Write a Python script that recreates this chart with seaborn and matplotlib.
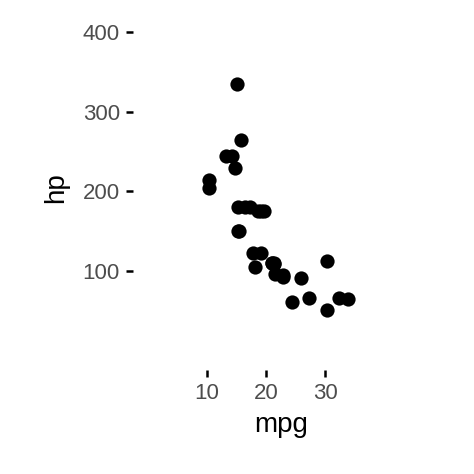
import matplotlib
matplotlib.use('Agg')
import matplotlib.pyplot as plt
import seaborn as sns
import pandas as pd

# mtcars mpg vs hp
mpg = [21.0, 21.0, 22.8, 21.4, 18.7, 18.1, 14.3, 24.4, 22.8, 19.2, 17.8, 16.4, 17.3, 15.2,
       10.4, 10.4, 14.7, 32.4, 30.4, 33.9, 21.5, 15.5, 15.2, 13.3, 19.2, 27.3, 26.0, 30.4,
       15.8, 19.7, 15.0, 21.4]
hp = [110, 110, 93, 110, 175, 105, 245, 62, 95, 123, 123, 180, 180, 180, 205, 215, 230, 66,
      52, 65, 97, 150, 150, 245, 175, 66, 91, 113, 264, 175, 335, 109]
df = pd.DataFrame({'mpg': mpg, 'hp': hp})

sns.set_style('white')
plt.rcParams['font.family'] = ['Liberation Sans', 'DejaVu Sans']
fig = plt.figure(figsize=(4.74, 4.74), dpi=100)
ax = fig.add_axes([177.5 / 474, (474 - 351) / 474, (384 - 177.5) / 474, (351 - 24) / 474])
sns.scatterplot(data=df, x='mpg', y='hp', color='black', s=105, edgecolor='black', linewidth=0, ax=ax)
ax.set_xlim(5, 40)
ax.set_ylim(0, 410)
ax.set_xticks([10, 20, 30])
ax.set_yticks([100, 200, 300, 400])
for s in ['top', 'right']:
    ax.spines[s].set_visible(False)
ax.spines['left'].set_position(('outward', 32.4))
ax.spines['bottom'].set_position(('outward', 13.7))
ax.spines['left'].set_visible(False)
ax.spines['bottom'].set_visible(False)
ax.tick_params(axis='both', length=5, width=1.8, color='black', labelsize=16,
               labelcolor='#4d4d4d', direction='out', pad=4, left=True, bottom=True)
ax.set_xlabel('mpg', fontsize=20, color='black', labelpad=6)
ax.set_ylabel('hp', fontsize=20, color='black', labelpad=10)
fig.savefig('out.png', dpi=100)
